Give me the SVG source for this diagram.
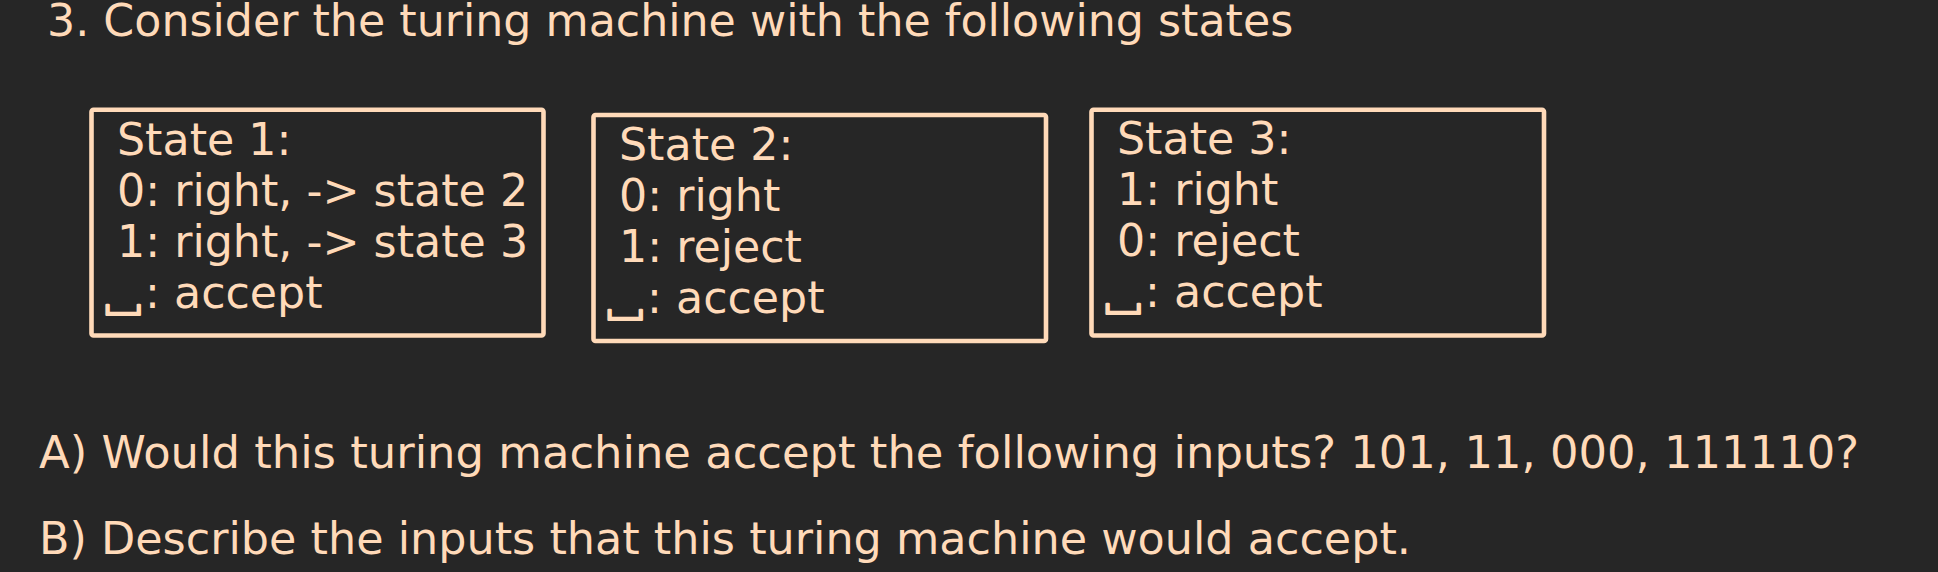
<svg xmlns="http://www.w3.org/2000/svg" width="1938" height="572" viewBox="0 0 1938 572">
<style>
.t{font-family:"DejaVu Sans","Liberation Sans",sans-serif;font-size:44.3px;fill:#FFDAB9}
.b{font-family:"Noto Sans CJK JP","DejaVu Sans",sans-serif;stroke:#FFDAB9;stroke-width:2.6;stroke-linejoin:round}
.box{fill:none;stroke:#FFDAB9;stroke-width:4.6;stroke-linejoin:round}
</style>
<rect width="1938" height="572" fill="#262626"/>
<text class="t" x="47" y="36">3. Consider the turing machine with the following states</text>
<g id="state1">
<rect class="box" x="91.5" y="109.7" width="452" height="225.8" rx="2"/>
<text class="t" x="117" y="155">State 1:</text>
<text class="t" x="117" y="206">0: right, -&gt; state 2</text>
<text class="t" x="117" y="257">1: right, -&gt; state 3</text>
<text class="t" y="308"><tspan class="b" x="101" dy="2">␣</tspan><tspan x="145" dy="-2">: accept</tspan></text>
</g>
<g id="state2">
<rect class="box" x="593.5" y="115" width="452.5" height="226" rx="2"/>
<text class="t" x="619" y="160">State 2:</text>
<text class="t" x="619" y="211">0: right</text>
<text class="t" x="619" y="262">1: reject</text>
<text class="t" y="313"><tspan class="b" x="603" dy="2">␣</tspan><tspan x="647" dy="-2">: accept</tspan></text>
</g>
<g id="state3">
<rect class="box" x="1091.5" y="109.7" width="452.5" height="225.8" rx="2"/>
<text class="t" x="1117" y="154">State 3:</text>
<text class="t" x="1117" y="205">1: right</text>
<text class="t" x="1117" y="256">0: reject</text>
<text class="t" y="307"><tspan class="b" x="1101" dy="2">␣</tspan><tspan x="1145" dy="-2">: accept</tspan></text>
</g>
<g id="connectors"/>
<text class="t" x="39" y="468" textLength="1820" lengthAdjust="spacingAndGlyphs">A) Would this turing machine accept the following inputs? 101, 11, 000, 111110?</text>
<text class="t" x="39" y="554" textLength="1372" lengthAdjust="spacingAndGlyphs">B) Describe the inputs that this turing machine would accept.</text>
</svg>
